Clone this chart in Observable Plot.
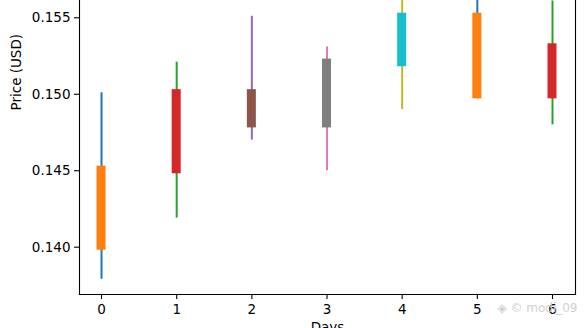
<!DOCTYPE html>
<html>
<head>
<meta charset="utf-8">
<script src="https://cdn.jsdelivr.net/npm/d3@7"></script>
<script src="https://cdn.jsdelivr.net/npm/@observablehq/plot@0.6"></script>
<style>
  html, body { margin: 0; padding: 0; background: #fff; }
</style>
</head>
<body>
<div id="chart"></div>
<script>
const days = [0, 1, 2, 3, 4, 5, 6];
const lows = [0.1379, 0.1419, 0.1470, 0.1450, 0.1490, 0.1497, 0.1480];
const highs = [0.1501, 0.1521, 0.1551, 0.1531, 0.1575, 0.1575, 0.1561];
const bodyLows = [0.1398, 0.1448, 0.1478, 0.1478, 0.1518, 0.1497, 0.1497];
const bodyHighs = [0.1453, 0.1503, 0.1503, 0.1523, 0.1553, 0.1553, 0.1533];
const wickColors = ["#1f77b4", "#2ca02c", "#9467bd", "#e377c2", "#bcbd22", "#1f77b4", "#2ca02c"];
const bodyColors = ["#ff7f0e", "#d62728", "#8c564b", "#7f7f7f", "#17becf", "#ff7f0e", "#d62728"];
const yTicks = [0.140, 0.145, 0.150, 0.155];
const xTicks = [0, 1, 2, 3, 4, 5, 6];

const data = days.map((d, i) => ({
  day: d, low: lows[i], high: highs[i], b0: bodyLows[i], b1: bodyHighs[i],
  wc: wickColors[i], bc: bodyColors[i]
}));
const halfW = 0.06;

const font = "DejaVu Sans, sans-serif";

const chart = Plot.plot({
  width: 584,
  height: 328,
  marginLeft: 79,
  marginRight: 9,
  marginTop: 0,
  marginBottom: 34,
  style: { fontFamily: font, fontSize: "13.5px", color: "#000", background: "#fff" },
  x: { domain: [-0.293, 6.306], ticks: xTicks, label: null },
  y: { domain: [0.136906, 0.156131], ticks: yTicks, label: null },
  marks: [
    Plot.ruleX(data, { x: "day", y1: "low", y2: "high", stroke: "wc", strokeWidth: 2, clip: true }),
    Plot.rect(data, { x1: d => d.day - halfW, x2: d => d.day + halfW, y1: "b0", y2: "b1", fill: "bc", clip: true }),
    Plot.axisY({ ticks: yTicks, tickFormat: d3.format(".3f"), tickSize: 5, tickPadding: 4, label: null, fontSize: 13.5, strokeWidth: 1.1 }),
    Plot.axisX({ ticks: xTicks, tickFormat: d3.format("d"), tickSize: 5, tickPadding: 5, label: null, fontSize: 13.5, strokeWidth: 1.1 }),
    Plot.frame({ anchor: "left", strokeWidth: 1.1 }),
    Plot.frame({ anchor: "right", strokeWidth: 1.1 }),
    Plot.frame({ anchor: "bottom", strokeWidth: 1.1 }),
    Plot.text(["Price (USD)"], { frameAnchor: "left", dx: -63, dy: -37, rotate: -90, fontSize: 13.5, fill: "#000" }),
    Plot.text(["Days"], { frameAnchor: "bottom", dy: 28, lineAnchor: "top", fontSize: 13.5, fill: "#000" }),
    Plot.text(["◈ © modi_09"], { frameAnchor: "bottom-right", dx: 2, dy: 17, textAnchor: "end", fontSize: 12, fill: "#d0d0d0" })
  ]
});
document.getElementById("chart").appendChild(chart);
</script>
</body>
</html>
